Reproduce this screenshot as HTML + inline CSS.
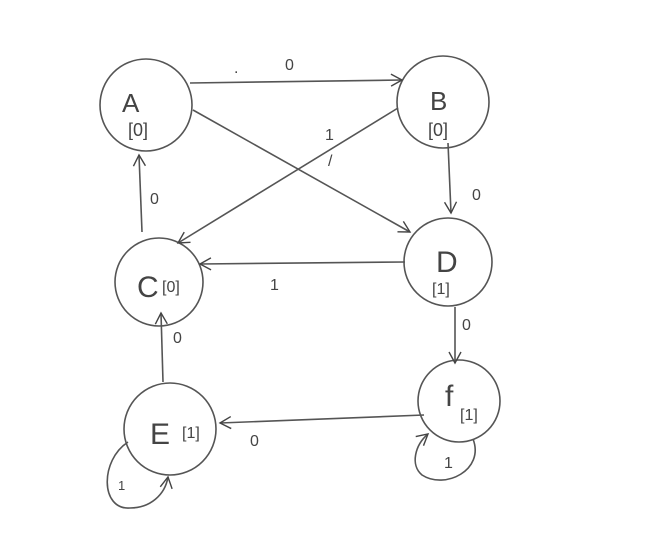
<!DOCTYPE html>
<html><head><meta charset="utf-8"><style>
html,body{margin:0;padding:0;background:#fff;width:659px;height:543px;overflow:hidden}
text{font-family:"Liberation Sans",sans-serif;fill:#444}
</style></head><body>
<svg width="659" height="543" viewBox="0 0 659 543" xmlns="http://www.w3.org/2000/svg">
<defs><marker id="a" markerWidth="14" markerHeight="14" refX="12" refY="7" orient="auto" markerUnits="userSpaceOnUse">
<path d="M1,1 L12,7 L1,13" fill="none" stroke="#444" stroke-width="1.4"/></marker></defs>
<g fill="none" stroke="#555" stroke-width="1.6">
<circle cx="146" cy="105" r="46"/>
<circle cx="443" cy="102" r="46"/>
<circle cx="159" cy="282" r="44"/>
<circle cx="448" cy="262" r="44"/>
<circle cx="170" cy="429" r="46"/>
<circle cx="459" cy="401" r="41"/>
<path d="M190,83 L402,80" marker-end="url(#a)"/>
<path d="M193,110 L410,232" marker-end="url(#a)"/>
<path d="M398,108 L178,243" marker-end="url(#a)"/>
<path d="M448,143 L451,213" marker-end="url(#a)"/>
<path d="M405,262 L200,264" marker-end="url(#a)"/>
<path d="M142,232 L139,155" marker-end="url(#a)"/>
<path d="M455,307 L455,363" marker-end="url(#a)"/>
<path d="M424,415 L220,423" marker-end="url(#a)"/>
<path d="M163,382 L161,313" marker-end="url(#a)"/>
<path d="M128,442 C100,460 100,510 130,508 C150,508 165,495 168,477" marker-end="url(#a)"/>
<path d="M473,439 C485,470 445,490 422,475 C410,465 415,445 428,434" marker-end="url(#a)"/>
</g>
<g font-size="26">
<text x="122" y="112">A</text><text x="128" y="136" font-size="18">[0]</text>
<text x="430" y="110">B</text><text x="428" y="136" font-size="18">[0]</text>
<text x="137" y="297" font-size="30">C</text><text x="162" y="292" font-size="16">[0]</text>
<text x="436" y="272" font-size="30">D</text><text x="432" y="294" font-size="16">[1]</text>
<text x="150" y="444" font-size="30">E</text><text x="182" y="438" font-size="16">[1]</text>
<text x="445" y="406" font-size="30">f</text><text x="460" y="420" font-size="16">[1]</text>
</g>
<g font-size="16">
<text x="285" y="70">0</text><text x="234" y="73">.</text>
<text x="325" y="140">1</text><text x="328" y="166">/</text>
<text x="472" y="200">0</text><text x="150" y="204">0</text>
<text x="270" y="290">1</text><text x="462" y="330">0</text>
<text x="173" y="343">0</text><text x="250" y="446">0</text>
<text x="118" y="490" font-size="13">1</text><text x="444" y="468">1</text>
</g>
</svg>
</body></html>
